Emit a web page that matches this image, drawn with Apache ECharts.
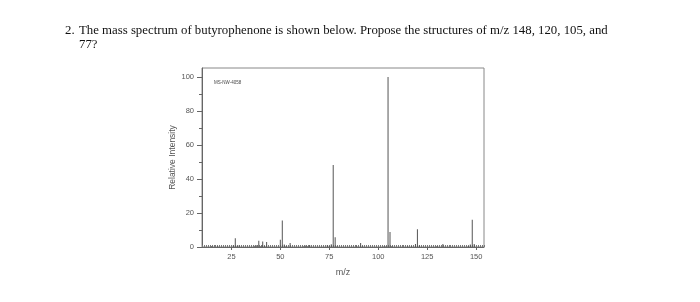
<!DOCTYPE html>
<html><head><meta charset="utf-8">
<script src="https://cdn.jsdelivr.net/npm/echarts@6/dist/echarts.min.js"></script>
<style>html,body{margin:0;padding:0;background:#fff}#c{width:700px;height:302px}</style>
</head><body><div id="c"></div>
<script>
const mz = [15,18,26,27,28,29,37,38,39,40,41,42,43,50,51,52,53,55,62,63,64,65,74,75,76,77,78,79,89,91,92,103,104,105,106,107,115,117,119,120,121,130,133,146,147,148,149];
const intensity = [0.6,0.5,1.0,5.1,0.8,1.0,0.7,1.0,3.7,0.5,3.3,0.6,2.9,4.3,15.6,1.5,0.6,2.3,0.5,0.9,0.5,1.0,1.2,0.8,1.6,48.2,5.7,0.4,0.5,2.3,0.5,0.4,0.5,100,8.8,0.6,0.5,0.5,1.8,10.4,1.0,0.6,1.7,0.6,1.5,16.0,1.7];
const xTickLabels = [25,50,75,100,125,150];
const yTickLabels = [0,20,40,60,80,100];
const yMinorTicks = [10,30,50,70,90];
const questionLine1 = "The mass spectrum of butyrophenone is shown below. Propose the structures of m/z 148, 120, 105, and";
const questionLine2 = "77?";
const questionNumber = "2.";
const spectrumId = "MS-NW-4058";

const chart = echarts.init(document.getElementById('c'), null, {renderer:'canvas'});
const gray = '#666';
const lab = {color:'#555', fontSize:7.5, fontFamily:'Liberation Sans'};
chart.setOption({
  animation:false,
  grid:{left:202, top:68, width:282, height:179, show:true, borderColor:'#888', borderWidth:1, containLabel:false},
  xAxis:[{
    type:'value', min:10, max:154, interval:1,
    name:'m/z', nameLocation:'middle', nameGap:21,
    nameTextStyle:{color:'#555', fontSize:9, fontFamily:'Liberation Sans'},
    axisLine:{show:true, lineStyle:{color:gray}},
    axisTick:{show:true, inside:true, length:2, lineStyle:{color:'#777', width:1}},
    axisLabel:Object.assign({customValues:xTickLabels, margin:6}, lab),
    splitLine:{show:false}
  },{
    type:'value', min:10, max:154, position:'bottom',
    axisLine:{show:false},
    axisTick:{show:true, length:3, customValues:xTickLabels, lineStyle:{color:gray}},
    axisLabel:{show:false}, splitLine:{show:false}
  }],
  yAxis:[{
    type:'value', min:0, max:105.3,
    name:'Relative Intensity', nameLocation:'middle', nameGap:23, nameRotate:90,
    nameTextStyle:{color:'#555', fontSize:8.5, fontFamily:'Liberation Sans'},
    axisLine:{show:true, lineStyle:{color:gray}},
    axisTick:{show:true, length:5, customValues:yTickLabels, lineStyle:{color:gray}},
    axisLabel:Object.assign({customValues:yTickLabels, margin:8}, lab),
    splitLine:{show:false}
  },{
    type:'value', min:0, max:105.3, position:'left',
    axisLine:{show:false},
    axisTick:{show:true, length:3, customValues:yMinorTicks, lineStyle:{color:gray}},
    axisLabel:{show:false}, splitLine:{show:false}
  }],
  series:[{
    type:'bar', xAxisIndex:0, yAxisIndex:0, barWidth:1,
    itemStyle:{color:'#555'},
    data: mz.map((m,i)=>[m,intensity[i]])
  }],
  graphic:[
    {type:'text', left:65, top:24, style:{text:questionNumber, font:'12.8px "Liberation Serif"', fill:'#111'}},
    {type:'text', left:79, top:24, style:{text:questionLine1, font:'12.8px "Liberation Serif"', fill:'#111'}},
    {type:'text', left:79, top:38, style:{text:questionLine2, font:'12.8px "Liberation Serif"', fill:'#111'}},
    {type:'text', left:214, top:80, style:{text:spectrumId, font:'4.5px "Liberation Sans"', fill:'#444'}}
  ]
});
</script></body></html>
